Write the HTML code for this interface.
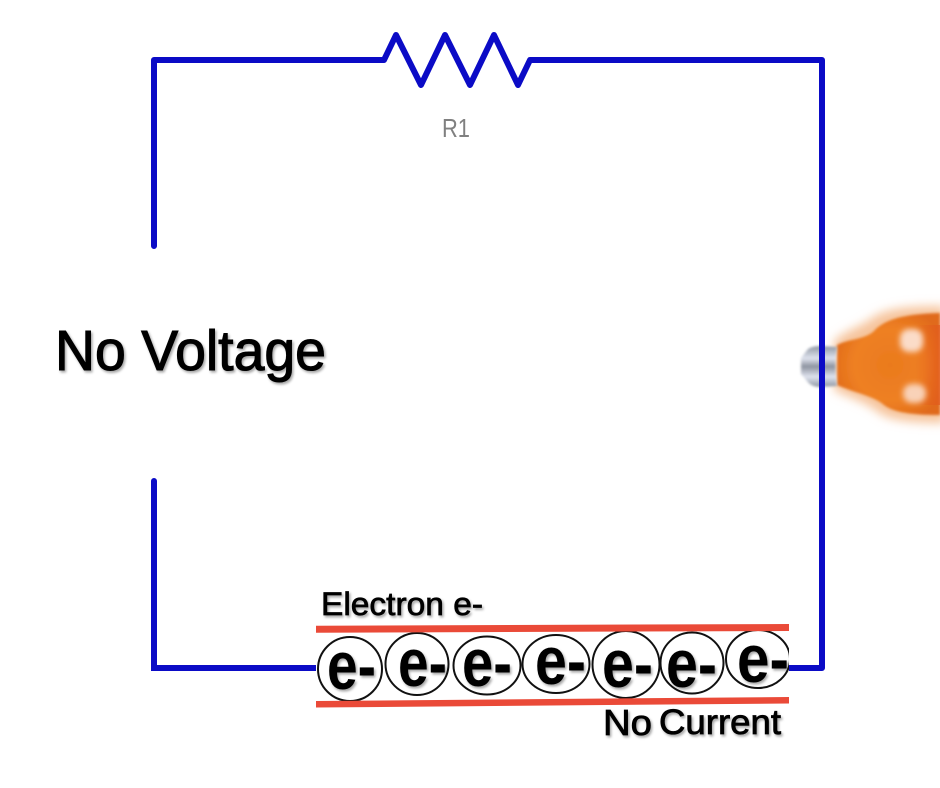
<!DOCTYPE html>
<html>
<head>
<meta charset="utf-8">
<style>
html,body{margin:0;padding:0;background:#fff;width:940px;height:788px;overflow:hidden}
svg{display:block}
text{font-family:"Liberation Sans",sans-serif}
</style>
</head>
<body>
<svg width="940" height="788" viewBox="0 0 940 788" xmlns="http://www.w3.org/2000/svg">
<defs>
<filter id="b1" x="-30%" y="-30%" width="160%" height="160%"><feGaussianBlur stdDeviation="3"/></filter>
<filter id="b2" x="-30%" y="-30%" width="160%" height="160%"><feGaussianBlur stdDeviation="5"/></filter>
<filter id="b3" x="-20%" y="-20%" width="140%" height="140%"><feGaussianBlur stdDeviation="1.3"/></filter>
<filter id="s" x="-5%" y="-20%" width="110%" height="150%"><feDropShadow dx="1.5" dy="2" stdDeviation="1.2" flood-color="#000" flood-opacity=".35"/></filter>
<radialGradient id="bulb" gradientUnits="userSpaceOnUse" cx="890" cy="365" r="60"><stop offset="0" stop-color="#ea7a1e"/><stop offset=".6" stop-color="#ee8022"/><stop offset="1" stop-color="#e06a1a"/></radialGradient>
<linearGradient id="right" x1="0" y1="0" x2="1" y2="0"><stop offset="0" stop-color="#e2581c" stop-opacity="0"/><stop offset="1" stop-color="#e2581c" stop-opacity=".7"/></linearGradient>
<linearGradient id="cap" x1="0" y1="0" x2="0" y2="1"><stop offset="0" stop-color="#8f97a3"/><stop offset=".3" stop-color="#dfe3ee"/><stop offset=".5" stop-color="#8d93a0"/><stop offset=".75" stop-color="#dfe3ee"/><stop offset="1" stop-color="#8f97a3"/></linearGradient>
<clipPath id="row"><rect x="316" y="620" width="473" height="90"/></clipPath>
</defs>

<!-- bulb -->
<path d="M834 341 C846 330 862 326 872 318 C886 308 910 306 945 306 L945 423 C910 423 888 420 878 412 C866 402 850 398 834 390 Z" fill="#f6c49c" filter="url(#b2)"/>
<path d="M837 345 C848 339 864 340 874 331 C885 319 905 314 940 313 L940 415 C910 415 893 412 884 405 C874 396 855 393 837 385 Z" fill="url(#bulb)" filter="url(#b3)"/>
<rect x="915" y="325" width="25" height="80" fill="url(#right)"/>
<rect x="900" y="329" width="23" height="23" rx="9" fill="#fbdcc8" filter="url(#b1)"/>
<rect x="903" y="384" width="23" height="19" rx="9" fill="#f9d2b8" filter="url(#b1)"/>
<path d="M801 358 L808 349 Q812 346 820 346 L837 347 Q834 366 837 386 L820 387 Q811 387 807 381 L801 374 Z" fill="url(#cap)" filter="url(#b3)"/>

<!-- wire -->
<g fill="none" stroke="#0b0bc6" stroke-width="6" stroke-linejoin="miter" stroke-linecap="round">
<path d="M154 246 V60 H384 L396 35 L421 85 L445 35 L470 85 L494 35 L518 85 L530 60 H822 V668 H785" stroke-linejoin="round"/>
<path d="M154 481 V668 H320"/>
</g>

<!-- electrons -->
<rect x="316" y="630" width="473" height="70" fill="#fff"/>
<g clip-path="url(#row)">
<g fill="#fff" stroke="#111" stroke-width="2">
<ellipse cx="350" cy="669" rx="32" ry="32"/>
<ellipse cx="417" cy="664" rx="31.5" ry="31"/>
<ellipse cx="487" cy="665.5" rx="33.5" ry="29"/>
<ellipse cx="556" cy="664" rx="33.5" ry="29"/>
<ellipse cx="626" cy="664.5" rx="33.5" ry="33.5"/>
<ellipse cx="692" cy="663" rx="31.5" ry="30.5"/>
<ellipse cx="758" cy="659" rx="32" ry="29"/>
</g>
<g font-weight="bold" fill="#000" font-size="68" filter="url(#s)">
<text x="327" y="689" textLength="49" lengthAdjust="spacingAndGlyphs">e-</text>
<text x="398" y="686" textLength="49" lengthAdjust="spacingAndGlyphs">e-</text>
<text x="462" y="686" textLength="50" lengthAdjust="spacingAndGlyphs">e-</text>
<text x="535" y="684" textLength="51" lengthAdjust="spacingAndGlyphs">e-</text>
<text x="602" y="687" textLength="51" lengthAdjust="spacingAndGlyphs">e-</text>
<text x="666" y="687" textLength="51" lengthAdjust="spacingAndGlyphs">e-</text>
<text x="737" y="682" textLength="52" lengthAdjust="spacingAndGlyphs">e-</text>
</g>
</g>
<path d="M316 625.7 L789 624 V631 L316 632.7 Z" fill="#ea4a38"/>
<path d="M316 701 L789 697 V703.5 L316 707.5 Z" fill="#ea4a38"/>

<!-- labels -->
<text x="442" y="137" font-size="26" fill="#808080" textLength="28" lengthAdjust="spacingAndGlyphs">R1</text>
<text x="55" y="370" font-size="57" fill="#000" stroke="#000" stroke-width="1.1" filter="url(#s)" textLength="271" lengthAdjust="spacingAndGlyphs">No Voltage</text>
<text x="321" y="615" font-size="32" fill="#000" stroke="#000" stroke-width=".7" filter="url(#s)" textLength="162" lengthAdjust="spacingAndGlyphs">Electron e-</text>
<text x="603" y="735" font-size="36" fill="#000" stroke="#000" stroke-width=".8" filter="url(#s)" textLength="49" lengthAdjust="spacingAndGlyphs">No</text>
<text x="659" y="734" font-size="35" fill="#000" stroke="#000" stroke-width=".8" filter="url(#s)" textLength="122" lengthAdjust="spacingAndGlyphs">Current</text>
</svg>
</body>
</html>
